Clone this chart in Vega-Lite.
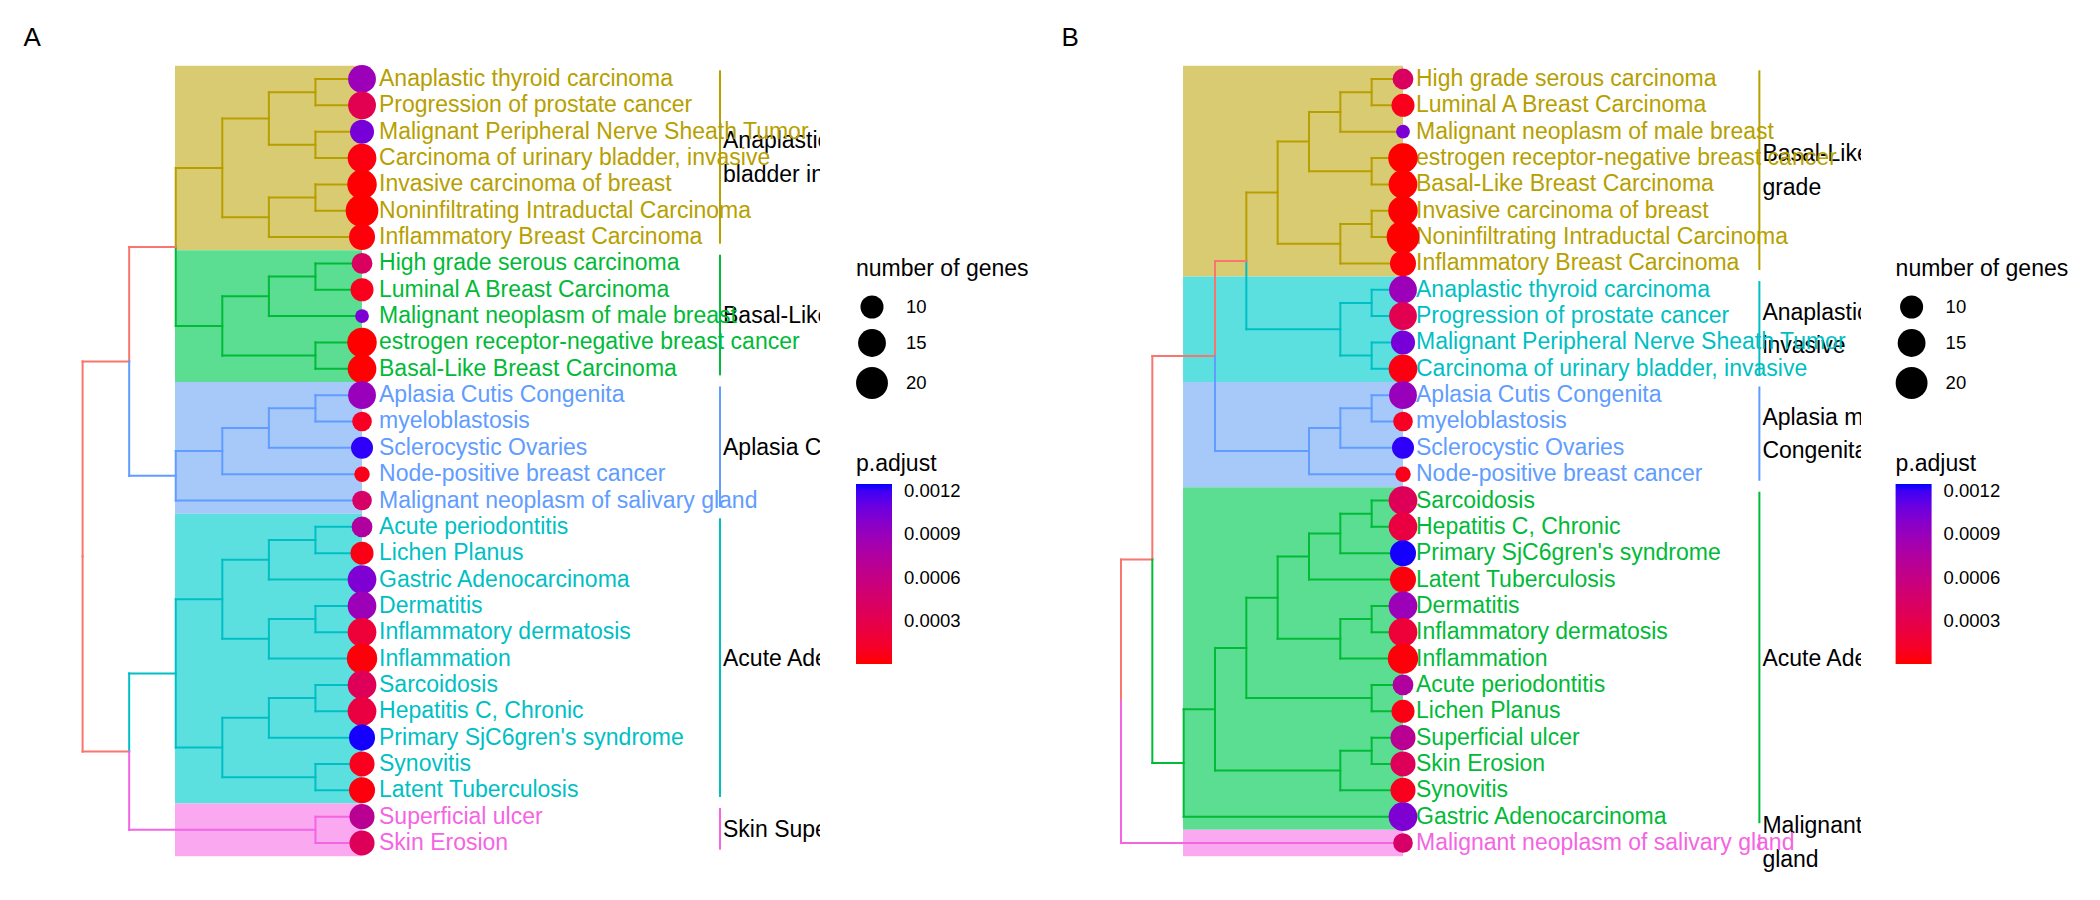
{
"$schema": "https://vega.github.io/schema/vega-lite/v6.json",
"padding": {"left": 0, "top": 25, "right": 0, "bottom": 0},
"bounds": "flush",
"spacing": 220,
"config": {
 "view": {"stroke": null},
 "font": "Liberation Sans",
 "title": {"fontSize": 26, "fontWeight": "normal", "anchor": "start", "frame": "group", "baseline": "alphabetic", "offset": 9, "color": "black", "font": "Liberation Sans"},
 "legend": {"titleFontSize": 23, "titleFontWeight": "normal", "labelFontSize": 18.5, "titleColor": "black", "labelColor": "black", "titleFont": "Liberation Sans", "labelFont": "Liberation Sans", "padding": 0, "symbolBaseFillColor": "black"}
},
"resolve": {"scale": {"x": "independent", "y": "independent", "color": "independent", "size": "independent"}},
"datasets": {
 "tipsA": [
  {"row": 0, "term": "Anaplastic thyroid carcinoma", "g": "c2", "count": 15, "padj": 0.00088},
  {"row": 1, "term": "Progression of prostate cancer", "g": "c2", "count": 15, "padj": 0.00032},
  {"row": 2, "term": "Malignant Peripheral Nerve Sheath Tumor", "g": "c2", "count": 11, "padj": 0.00105},
  {"row": 3, "term": "Carcinoma of urinary bladder, invasive", "g": "c2", "count": 16, "padj": 0.00004},
  {"row": 4, "term": "Invasive carcinoma of breast", "g": "c2", "count": 17, "padj": 0.00001},
  {"row": 5, "term": "Noninfiltrating Intraductal Carcinoma", "g": "c2", "count": 21, "padj": 0.000003},
  {"row": 6, "term": "Inflammatory Breast Carcinoma", "g": "c2", "count": 13, "padj": 0.00002},
  {"row": 7, "term": "High grade serous carcinoma", "g": "c3", "count": 8, "padj": 0.0004},
  {"row": 8, "term": "Luminal A Breast Carcinoma", "g": "c3", "count": 10, "padj": 0.00007},
  {"row": 9, "term": "Malignant neoplasm of male breast", "g": "c3", "count": 3, "padj": 0.00103},
  {"row": 10, "term": "estrogen receptor-negative breast cancer", "g": "c3", "count": 17, "padj": 0.000005},
  {"row": 11, "term": "Basal-Like Breast Carcinoma", "g": "c3", "count": 16, "padj": 0.000008},
  {"row": 12, "term": "Aplasia Cutis Congenita", "g": "c5", "count": 15, "padj": 0.0009},
  {"row": 13, "term": "myeloblastosis", "g": "c5", "count": 7, "padj": 0.0001},
  {"row": 14, "term": "Sclerocystic Ovaries", "g": "c5", "count": 9, "padj": 0.00122},
  {"row": 15, "term": "Node-positive breast cancer", "g": "c5", "count": 4, "padj": 0.00006},
  {"row": 16, "term": "Malignant neoplasm of salivary gland", "g": "c5", "count": 7, "padj": 0.00044},
  {"row": 17, "term": "Acute periodontitis", "g": "c4", "count": 8, "padj": 0.00075},
  {"row": 18, "term": "Lichen Planus", "g": "c4", "count": 10, "padj": 0.00005},
  {"row": 19, "term": "Gastric Adenocarcinoma", "g": "c4", "count": 16, "padj": 0.00102},
  {"row": 20, "term": "Dermatitis", "g": "c4", "count": 16, "padj": 0.00088},
  {"row": 21, "term": "Inflammatory dermatosis", "g": "c4", "count": 16, "padj": 0.0002},
  {"row": 22, "term": "Inflammation", "g": "c4", "count": 18, "padj": 0.00002},
  {"row": 23, "term": "Sarcoidosis", "g": "c4", "count": 16, "padj": 0.00036},
  {"row": 24, "term": "Hepatitis C, Chronic", "g": "c4", "count": 16, "padj": 0.00024},
  {"row": 25, "term": "Primary SjC6gren's syndrome", "g": "c4", "count": 13, "padj": 0.00124},
  {"row": 26, "term": "Synovitis", "g": "c4", "count": 12, "padj": 0.00008},
  {"row": 27, "term": "Latent Tuberculosis", "g": "c4", "count": 13, "padj": 0.00003},
  {"row": 28, "term": "Superficial ulcer", "g": "c6", "count": 12, "padj": 0.00068},
  {"row": 29, "term": "Skin Erosion", "g": "c6", "count": 12, "padj": 0.00036}
 ],
 "tipsB": [
  {"row": 0, "term": "High grade serous carcinoma", "g": "c2", "count": 8, "padj": 0.0004},
  {"row": 1, "term": "Luminal A Breast Carcinoma", "g": "c2", "count": 10, "padj": 0.00007},
  {"row": 2, "term": "Malignant neoplasm of male breast", "g": "c2", "count": 3, "padj": 0.00103},
  {"row": 3, "term": "estrogen receptor-negative breast cancer", "g": "c2", "count": 17, "padj": 0.000005},
  {"row": 4, "term": "Basal-Like Breast Carcinoma", "g": "c2", "count": 16, "padj": 0.000008},
  {"row": 5, "term": "Invasive carcinoma of breast", "g": "c2", "count": 17, "padj": 0.00001},
  {"row": 6, "term": "Noninfiltrating Intraductal Carcinoma", "g": "c2", "count": 21, "padj": 0.000003},
  {"row": 7, "term": "Inflammatory Breast Carcinoma", "g": "c2", "count": 13, "padj": 0.00002},
  {"row": 8, "term": "Anaplastic thyroid carcinoma", "g": "c4", "count": 15, "padj": 0.00088},
  {"row": 9, "term": "Progression of prostate cancer", "g": "c4", "count": 15, "padj": 0.00032},
  {"row": 10, "term": "Malignant Peripheral Nerve Sheath Tumor", "g": "c4", "count": 11, "padj": 0.00105},
  {"row": 11, "term": "Carcinoma of urinary bladder, invasive", "g": "c4", "count": 16, "padj": 0.00004},
  {"row": 12, "term": "Aplasia Cutis Congenita", "g": "c5", "count": 15, "padj": 0.0009},
  {"row": 13, "term": "myeloblastosis", "g": "c5", "count": 7, "padj": 0.0001},
  {"row": 14, "term": "Sclerocystic Ovaries", "g": "c5", "count": 9, "padj": 0.00122},
  {"row": 15, "term": "Node-positive breast cancer", "g": "c5", "count": 4, "padj": 0.00006},
  {"row": 16, "term": "Sarcoidosis", "g": "c3", "count": 16, "padj": 0.00036},
  {"row": 17, "term": "Hepatitis C, Chronic", "g": "c3", "count": 16, "padj": 0.00024},
  {"row": 18, "term": "Primary SjC6gren's syndrome", "g": "c3", "count": 13, "padj": 0.00124},
  {"row": 19, "term": "Latent Tuberculosis", "g": "c3", "count": 13, "padj": 0.00003},
  {"row": 20, "term": "Dermatitis", "g": "c3", "count": 16, "padj": 0.00088},
  {"row": 21, "term": "Inflammatory dermatosis", "g": "c3", "count": 16, "padj": 0.0002},
  {"row": 22, "term": "Inflammation", "g": "c3", "count": 18, "padj": 0.00002},
  {"row": 23, "term": "Acute periodontitis", "g": "c3", "count": 8, "padj": 0.00075},
  {"row": 24, "term": "Lichen Planus", "g": "c3", "count": 10, "padj": 0.00005},
  {"row": 25, "term": "Superficial ulcer", "g": "c3", "count": 12, "padj": 0.00068},
  {"row": 26, "term": "Skin Erosion", "g": "c3", "count": 12, "padj": 0.00036},
  {"row": 27, "term": "Synovitis", "g": "c3", "count": 12, "padj": 0.00008},
  {"row": 28, "term": "Gastric Adenocarcinoma", "g": "c3", "count": 16, "padj": 0.00102},
  {"row": 29, "term": "Malignant neoplasm of salivary gland", "g": "c6", "count": 7, "padj": 0.00044}
 ],
 "boxA": [
  {"g": "c2", "y": -0.5, "y2": 6.5}, {"g": "c3", "y": 6.5, "y2": 11.5}, {"g": "c5", "y": 11.5, "y2": 16.5}, {"g": "c4", "y": 16.5, "y2": 27.5}, {"g": "c6", "y": 27.5, "y2": 29.5}
 ],
 "boxB": [
  {"g": "c2", "y": -0.5, "y2": 7.5}, {"g": "c4", "y": 7.5, "y2": 11.5}, {"g": "c5", "y": 11.5, "y2": 15.5}, {"g": "c3", "y": 15.5, "y2": 28.5}, {"g": "c6", "y": 28.5, "y2": 29.5}
 ],
 "cladeA": [
  {"g": "c2", "lo": -0.33, "hi": 6.25, "mid": 3, "lines": 2, "label": "Anaplastic thyroid\nbladder invasive"},
  {"g": "c3", "lo": 6.67, "hi": 11.25, "mid": 9, "lines": 1, "label": "Basal-Like Breast"},
  {"g": "c5", "lo": 11.67, "hi": 16.25, "mid": 14, "lines": 1, "label": "Aplasia Cutis"},
  {"g": "c4", "lo": 16.67, "hi": 27.25, "mid": 22, "lines": 1, "label": "Acute Adenocarcinoma"},
  {"g": "c6", "lo": 27.67, "hi": 29.25, "mid": 28.5, "lines": 1, "label": "Skin Superficial"}
 ],
 "cladeB": [
  {"g": "c2", "lo": -0.33, "hi": 7.25, "mid": 3.5, "lines": 2, "label": "Basal-Like high\ngrade"},
  {"g": "c4", "lo": 7.67, "hi": 11.25, "mid": 9.5, "lines": 2, "label": "Anaplastic thyroid\ninvasive"},
  {"g": "c5", "lo": 11.67, "hi": 15.25, "mid": 13.5, "lines": 2, "label": "Aplasia myeloblastosis\nCongenita Cutis"},
  {"g": "c3", "lo": 15.67, "hi": 28.25, "mid": 22, "lines": 1, "label": "Acute Adenocarcinoma"},
  {"g": "c6", "lo": 28.67, "hi": 29.25, "mid": 29, "lines": 2, "label": "Malignant\ngland"}
 ],
 "segA": [
  {"x": 5, "x2": 6, "y": 0, "y2": 0, "g": "c2"}, {"x": 5, "x2": 6, "y": 1, "y2": 1, "g": "c2"}, {"x": 5, "x2": 6, "y": 2, "y2": 2, "g": "c2"}, {"x": 5, "x2": 6, "y": 3, "y2": 3, "g": "c2"},
  {"x": 5, "x2": 6, "y": 4, "y2": 4, "g": "c2"}, {"x": 5, "x2": 6, "y": 5, "y2": 5, "g": "c2"}, {"x": 4, "x2": 6, "y": 6, "y2": 6, "g": "c2"}, {"x": 4, "x2": 5, "y": 0.5, "y2": 0.5, "g": "c2"},
  {"x": 4, "x2": 5, "y": 2.5, "y2": 2.5, "g": "c2"}, {"x": 4, "x2": 5, "y": 4.5, "y2": 4.5, "g": "c2"}, {"x": 3, "x2": 4, "y": 1.5, "y2": 1.5, "g": "c2"}, {"x": 3, "x2": 4, "y": 5.25, "y2": 5.25, "g": "c2"},
  {"x": 2, "x2": 3, "y": 3.375, "y2": 3.375, "g": "c2"},
  {"x": 5, "x2": 5, "y": 0, "y2": 1, "g": "c2"}, {"x": 5, "x2": 5, "y": 2, "y2": 3, "g": "c2"}, {"x": 4, "x2": 4, "y": 0.5, "y2": 2.5, "g": "c2"}, {"x": 5, "x2": 5, "y": 4, "y2": 5, "g": "c2"},
  {"x": 4, "x2": 4, "y": 4.5, "y2": 6, "g": "c2"}, {"x": 3, "x2": 3, "y": 1.5, "y2": 5.25, "g": "c2"}, {"x": 2, "x2": 2, "y": 3.375, "y2": 6.375, "g": "c2"},
  {"x": 5, "x2": 6, "y": 7, "y2": 7, "g": "c3"}, {"x": 5, "x2": 6, "y": 8, "y2": 8, "g": "c3"}, {"x": 4, "x2": 6, "y": 9, "y2": 9, "g": "c3"}, {"x": 4, "x2": 5, "y": 7.5, "y2": 7.5, "g": "c3"},
  {"x": 5, "x2": 6, "y": 10, "y2": 10, "g": "c3"}, {"x": 5, "x2": 6, "y": 11, "y2": 11, "g": "c3"}, {"x": 3, "x2": 4, "y": 8.25, "y2": 8.25, "g": "c3"}, {"x": 3, "x2": 5, "y": 10.5, "y2": 10.5, "g": "c3"},
  {"x": 2, "x2": 3, "y": 9.375, "y2": 9.375, "g": "c3"},
  {"x": 5, "x2": 5, "y": 7, "y2": 8, "g": "c3"}, {"x": 4, "x2": 4, "y": 7.5, "y2": 9, "g": "c3"}, {"x": 5, "x2": 5, "y": 10, "y2": 11, "g": "c3"}, {"x": 3, "x2": 3, "y": 8.25, "y2": 10.5, "g": "c3"},
  {"x": 2, "x2": 2, "y": 6.375, "y2": 9.375, "g": "c3"},
  {"x": 1, "x2": 2, "y": 6.375, "y2": 6.375, "g": "c1"}, {"x": 1, "x2": 1, "y": 6.375, "y2": 10.71875, "g": "c1"}, {"x": 0, "x2": 1, "y": 10.71875, "y2": 10.71875, "g": "c1"},
  {"x": 0, "x2": 0, "y": 10.71875, "y2": 18.125, "g": "c1"}, {"x": 0, "x2": 1, "y": 25.53125, "y2": 25.53125, "g": "c1"}, {"x": 0, "x2": 0, "y": 18.125, "y2": 25.53125, "g": "c1"},
  {"x": 5, "x2": 6, "y": 12, "y2": 12, "g": "c5"}, {"x": 5, "x2": 6, "y": 13, "y2": 13, "g": "c5"}, {"x": 4, "x2": 6, "y": 14, "y2": 14, "g": "c5"}, {"x": 4, "x2": 5, "y": 12.5, "y2": 12.5, "g": "c5"},
  {"x": 3, "x2": 6, "y": 15, "y2": 15, "g": "c5"}, {"x": 3, "x2": 4, "y": 13.25, "y2": 13.25, "g": "c5"}, {"x": 2, "x2": 6, "y": 16, "y2": 16, "g": "c5"}, {"x": 2, "x2": 3, "y": 14.125, "y2": 14.125, "g": "c5"},
  {"x": 1, "x2": 2, "y": 15.0625, "y2": 15.0625, "g": "c5"},
  {"x": 5, "x2": 5, "y": 12, "y2": 13, "g": "c5"}, {"x": 4, "x2": 4, "y": 12.5, "y2": 14, "g": "c5"}, {"x": 3, "x2": 3, "y": 13.25, "y2": 15, "g": "c5"}, {"x": 2, "x2": 2, "y": 14.125, "y2": 16, "g": "c5"},
  {"x": 1, "x2": 1, "y": 10.71875, "y2": 15.0625, "g": "c5"},
  {"x": 5, "x2": 6, "y": 17, "y2": 17, "g": "c4"}, {"x": 5, "x2": 6, "y": 18, "y2": 18, "g": "c4"}, {"x": 4, "x2": 6, "y": 19, "y2": 19, "g": "c4"}, {"x": 4, "x2": 5, "y": 17.5, "y2": 17.5, "g": "c4"},
  {"x": 5, "x2": 6, "y": 20, "y2": 20, "g": "c4"}, {"x": 5, "x2": 6, "y": 21, "y2": 21, "g": "c4"}, {"x": 4, "x2": 6, "y": 22, "y2": 22, "g": "c4"}, {"x": 4, "x2": 5, "y": 20.5, "y2": 20.5, "g": "c4"},
  {"x": 3, "x2": 4, "y": 18.25, "y2": 18.25, "g": "c4"}, {"x": 3, "x2": 4, "y": 21.25, "y2": 21.25, "g": "c4"}, {"x": 5, "x2": 6, "y": 23, "y2": 23, "g": "c4"}, {"x": 5, "x2": 6, "y": 24, "y2": 24, "g": "c4"},
  {"x": 4, "x2": 6, "y": 25, "y2": 25, "g": "c4"}, {"x": 4, "x2": 5, "y": 23.5, "y2": 23.5, "g": "c4"}, {"x": 5, "x2": 6, "y": 26, "y2": 26, "g": "c4"}, {"x": 5, "x2": 6, "y": 27, "y2": 27, "g": "c4"},
  {"x": 3, "x2": 4, "y": 24.25, "y2": 24.25, "g": "c4"}, {"x": 3, "x2": 5, "y": 26.5, "y2": 26.5, "g": "c4"}, {"x": 2, "x2": 3, "y": 19.75, "y2": 19.75, "g": "c4"}, {"x": 2, "x2": 3, "y": 25.375, "y2": 25.375, "g": "c4"},
  {"x": 1, "x2": 2, "y": 22.5625, "y2": 22.5625, "g": "c4"},
  {"x": 5, "x2": 5, "y": 17, "y2": 18, "g": "c4"}, {"x": 4, "x2": 4, "y": 17.5, "y2": 19, "g": "c4"}, {"x": 5, "x2": 5, "y": 20, "y2": 21, "g": "c4"}, {"x": 4, "x2": 4, "y": 20.5, "y2": 22, "g": "c4"},
  {"x": 3, "x2": 3, "y": 18.25, "y2": 21.25, "g": "c4"}, {"x": 5, "x2": 5, "y": 23, "y2": 24, "g": "c4"}, {"x": 4, "x2": 4, "y": 23.5, "y2": 25, "g": "c4"}, {"x": 5, "x2": 5, "y": 26, "y2": 27, "g": "c4"},
  {"x": 3, "x2": 3, "y": 24.25, "y2": 26.5, "g": "c4"}, {"x": 2, "x2": 2, "y": 19.75, "y2": 25.375, "g": "c4"}, {"x": 1, "x2": 1, "y": 22.5625, "y2": 25.53125, "g": "c4"},
  {"x": 5, "x2": 6, "y": 28, "y2": 28, "g": "c6"}, {"x": 5, "x2": 6, "y": 29, "y2": 29, "g": "c6"}, {"x": 1, "x2": 5, "y": 28.5, "y2": 28.5, "g": "c6"},
  {"x": 5, "x2": 5, "y": 28, "y2": 29, "g": "c6"}, {"x": 1, "x2": 1, "y": 25.53125, "y2": 28.5, "g": "c6"}
 ],
 "segB": [
  {"x": 8, "x2": 9, "y": 0, "y2": 0, "g": "c2"}, {"x": 8, "x2": 9, "y": 1, "y2": 1, "g": "c2"}, {"x": 7, "x2": 9, "y": 2, "y2": 2, "g": "c2"}, {"x": 7, "x2": 8, "y": 0.5, "y2": 0.5, "g": "c2"},
  {"x": 8, "x2": 9, "y": 3, "y2": 3, "g": "c2"}, {"x": 8, "x2": 9, "y": 4, "y2": 4, "g": "c2"}, {"x": 6, "x2": 8, "y": 3.5, "y2": 3.5, "g": "c2"}, {"x": 6, "x2": 7, "y": 1.25, "y2": 1.25, "g": "c2"},
  {"x": 8, "x2": 9, "y": 5, "y2": 5, "g": "c2"}, {"x": 8, "x2": 9, "y": 6, "y2": 6, "g": "c2"}, {"x": 7, "x2": 9, "y": 7, "y2": 7, "g": "c2"}, {"x": 7, "x2": 8, "y": 5.5, "y2": 5.5, "g": "c2"},
  {"x": 5, "x2": 6, "y": 2.375, "y2": 2.375, "g": "c2"}, {"x": 5, "x2": 7, "y": 6.25, "y2": 6.25, "g": "c2"}, {"x": 4, "x2": 5, "y": 4.3125, "y2": 4.3125, "g": "c2"},
  {"x": 8, "x2": 8, "y": 0, "y2": 1, "g": "c2"}, {"x": 7, "x2": 7, "y": 0.5, "y2": 2, "g": "c2"}, {"x": 8, "x2": 8, "y": 3, "y2": 4, "g": "c2"}, {"x": 6, "x2": 6, "y": 1.25, "y2": 3.5, "g": "c2"},
  {"x": 8, "x2": 8, "y": 5, "y2": 6, "g": "c2"}, {"x": 7, "x2": 7, "y": 5.5, "y2": 7, "g": "c2"}, {"x": 5, "x2": 5, "y": 2.375, "y2": 6.25, "g": "c2"}, {"x": 4, "x2": 4, "y": 4.3125, "y2": 6.90625, "g": "c2"},
  {"x": 8, "x2": 9, "y": 8, "y2": 8, "g": "c4"}, {"x": 8, "x2": 9, "y": 9, "y2": 9, "g": "c4"}, {"x": 8, "x2": 9, "y": 10, "y2": 10, "g": "c4"}, {"x": 8, "x2": 9, "y": 11, "y2": 11, "g": "c4"},
  {"x": 7, "x2": 8, "y": 8.5, "y2": 8.5, "g": "c4"}, {"x": 7, "x2": 8, "y": 10.5, "y2": 10.5, "g": "c4"}, {"x": 4, "x2": 7, "y": 9.5, "y2": 9.5, "g": "c4"},
  {"x": 8, "x2": 8, "y": 8, "y2": 9, "g": "c4"}, {"x": 8, "x2": 8, "y": 10, "y2": 11, "g": "c4"}, {"x": 7, "x2": 7, "y": 8.5, "y2": 10.5, "g": "c4"}, {"x": 4, "x2": 4, "y": 6.90625, "y2": 9.5, "g": "c4"},
  {"x": 3, "x2": 4, "y": 6.90625, "y2": 6.90625, "g": "c1"}, {"x": 1, "x2": 3, "y": 10.515625, "y2": 10.515625, "g": "c1"}, {"x": 0, "x2": 1, "y": 18.23828, "y2": 18.23828, "g": "c1"},
  {"x": 3, "x2": 3, "y": 6.90625, "y2": 10.515625, "g": "c1"}, {"x": 1, "x2": 1, "y": 10.515625, "y2": 18.23828, "g": "c1"}, {"x": 0, "x2": 0, "y": 18.23828, "y2": 23.61914, "g": "c1"},
  {"x": 8, "x2": 9, "y": 12, "y2": 12, "g": "c5"}, {"x": 8, "x2": 9, "y": 13, "y2": 13, "g": "c5"}, {"x": 7, "x2": 9, "y": 14, "y2": 14, "g": "c5"}, {"x": 7, "x2": 8, "y": 12.5, "y2": 12.5, "g": "c5"},
  {"x": 6, "x2": 9, "y": 15, "y2": 15, "g": "c5"}, {"x": 6, "x2": 7, "y": 13.25, "y2": 13.25, "g": "c5"}, {"x": 3, "x2": 6, "y": 14.125, "y2": 14.125, "g": "c5"},
  {"x": 8, "x2": 8, "y": 12, "y2": 13, "g": "c5"}, {"x": 7, "x2": 7, "y": 12.5, "y2": 14, "g": "c5"}, {"x": 6, "x2": 6, "y": 13.25, "y2": 15, "g": "c5"}, {"x": 3, "x2": 3, "y": 10.515625, "y2": 14.125, "g": "c5"},
  {"x": 8, "x2": 9, "y": 16, "y2": 16, "g": "c3"}, {"x": 8, "x2": 9, "y": 17, "y2": 17, "g": "c3"}, {"x": 7, "x2": 9, "y": 18, "y2": 18, "g": "c3"}, {"x": 7, "x2": 8, "y": 16.5, "y2": 16.5, "g": "c3"},
  {"x": 6, "x2": 9, "y": 19, "y2": 19, "g": "c3"}, {"x": 6, "x2": 7, "y": 17.25, "y2": 17.25, "g": "c3"}, {"x": 8, "x2": 9, "y": 20, "y2": 20, "g": "c3"}, {"x": 8, "x2": 9, "y": 21, "y2": 21, "g": "c3"},
  {"x": 7, "x2": 9, "y": 22, "y2": 22, "g": "c3"}, {"x": 7, "x2": 8, "y": 20.5, "y2": 20.5, "g": "c3"}, {"x": 5, "x2": 6, "y": 18.125, "y2": 18.125, "g": "c3"}, {"x": 5, "x2": 7, "y": 21.25, "y2": 21.25, "g": "c3"},
  {"x": 8, "x2": 9, "y": 23, "y2": 23, "g": "c3"}, {"x": 8, "x2": 9, "y": 24, "y2": 24, "g": "c3"}, {"x": 4, "x2": 5, "y": 19.6875, "y2": 19.6875, "g": "c3"}, {"x": 4, "x2": 8, "y": 23.5, "y2": 23.5, "g": "c3"},
  {"x": 8, "x2": 9, "y": 25, "y2": 25, "g": "c3"}, {"x": 8, "x2": 9, "y": 26, "y2": 26, "g": "c3"}, {"x": 7, "x2": 9, "y": 27, "y2": 27, "g": "c3"}, {"x": 7, "x2": 8, "y": 25.5, "y2": 25.5, "g": "c3"},
  {"x": 3, "x2": 4, "y": 21.59375, "y2": 21.59375, "g": "c3"}, {"x": 3, "x2": 7, "y": 26.25, "y2": 26.25, "g": "c3"}, {"x": 2, "x2": 3, "y": 23.921875, "y2": 23.921875, "g": "c3"}, {"x": 2, "x2": 9, "y": 28, "y2": 28, "g": "c3"},
  {"x": 1, "x2": 2, "y": 25.9609375, "y2": 25.9609375, "g": "c3"},
  {"x": 8, "x2": 8, "y": 16, "y2": 17, "g": "c3"}, {"x": 7, "x2": 7, "y": 16.5, "y2": 18, "g": "c3"}, {"x": 6, "x2": 6, "y": 17.25, "y2": 19, "g": "c3"}, {"x": 8, "x2": 8, "y": 20, "y2": 21, "g": "c3"},
  {"x": 7, "x2": 7, "y": 20.5, "y2": 22, "g": "c3"}, {"x": 5, "x2": 5, "y": 18.125, "y2": 21.25, "g": "c3"}, {"x": 8, "x2": 8, "y": 23, "y2": 24, "g": "c3"}, {"x": 4, "x2": 4, "y": 19.6875, "y2": 23.5, "g": "c3"},
  {"x": 8, "x2": 8, "y": 25, "y2": 26, "g": "c3"}, {"x": 7, "x2": 7, "y": 25.5, "y2": 27, "g": "c3"}, {"x": 3, "x2": 3, "y": 21.59375, "y2": 26.25, "g": "c3"}, {"x": 2, "x2": 2, "y": 23.921875, "y2": 28, "g": "c3"},
  {"x": 1, "x2": 1, "y": 18.23828, "y2": 25.9609375, "g": "c3"},
  {"x": 0, "x2": 9, "y": 29, "y2": 29, "g": "c6"}, {"x": 0, "x2": 0, "y": 23.61914, "y2": 29, "g": "c6"}
 ]
},
"hconcat": [
 {
  "width": 820, "height": 840,
  "title": {"text": "A", "dx": 23.5},
  "resolve": {"scale": {"color": "independent"}},
  "layer": [
   {"data": {"name": "boxA"}, "mark": {"type": "rect"},
    "encoding": {
     "x": {"datum": 1.984, "type": "quantitative", "scale": {"domain": [-1.77367, 15.8342], "nice": false, "zero": false}, "axis": null},
     "x2": {"datum": 6},
     "y": {"field": "y", "type": "quantitative", "scale": {"domain": [-0.7212, 31.1634], "reverse": true, "nice": false, "zero": false}, "axis": null},
     "y2": {"field": "y2"},
     "color": {"field": "g", "type": "nominal", "scale": {"domain": ["c1", "c2", "c3", "c4", "c5", "c6"], "range": ["#F8766D", "#D9CB72", "#5BDE91", "#5CE0DF", "#A6C9FA", "#FAA8EF"]}, "legend": null}
    }},
   {"data": {"name": "segA"}, "mark": {"type": "rule", "strokeWidth": 2, "strokeCap": "square"},
    "encoding": {
     "x": {"field": "x", "type": "quantitative", "axis": null}, "x2": {"field": "x2"},
     "y": {"field": "y", "type": "quantitative", "axis": null}, "y2": {"field": "y2"},
     "color": {"field": "g", "type": "nominal", "scale": {"domain": ["c1", "c2", "c3", "c4", "c5", "c6"], "range": ["#F8766D", "#B79F00", "#00BA38", "#00BFC4", "#619CFF", "#F564E3"]}, "legend": null}
    }},
   {"data": {"name": "cladeA"}, "mark": {"type": "rule", "strokeWidth": 2},
    "encoding": {
     "x": {"datum": 13.687, "type": "quantitative", "axis": null},
     "y": {"field": "lo", "type": "quantitative", "axis": null}, "y2": {"field": "hi"},
     "color": {"field": "g", "type": "nominal", "scale": {"domain": ["c1", "c2", "c3", "c4", "c5", "c6"], "range": ["#F8766D", "#B79F00", "#00BA38", "#00BFC4", "#619CFF", "#F564E3"]}, "legend": null}
    }},
   {"data": {"name": "cladeA"}, "transform": [{"filter": "datum.lines == 1"}],
    "mark": {"type": "text", "clip": true, "align": "left", "baseline": "middle", "dx": 3, "fontSize": 23, "color": "black", "font": "Liberation Sans"},
    "encoding": {
     "x": {"datum": 13.687, "type": "quantitative", "axis": null},
     "y": {"field": "mid", "type": "quantitative", "axis": null},
     "text": {"field": "label"}
    }},
   {"data": {"name": "cladeA"}, "transform": [{"filter": "datum.lines == 2"}],
    "mark": {"type": "text", "clip": true, "align": "left", "baseline": "middle", "dx": 3, "dy": -17, "fontSize": 23, "lineBreak": "\n", "lineHeight": 34, "color": "black", "font": "Liberation Sans"},
    "encoding": {
     "x": {"datum": 13.687, "type": "quantitative", "axis": null},
     "y": {"field": "mid", "type": "quantitative", "axis": null},
     "text": {"field": "label"}
    }},
   {"data": {"name": "tipsA"}, "mark": {"type": "text", "align": "left", "baseline": "middle", "dx": 17, "fontSize": 23, "font": "Liberation Sans"},
    "encoding": {
     "x": {"datum": 6, "type": "quantitative", "axis": null},
     "y": {"field": "row", "type": "quantitative", "axis": null},
     "text": {"field": "term"},
     "color": {"field": "g", "type": "nominal", "scale": {"domain": ["c1", "c2", "c3", "c4", "c5", "c6"], "range": ["#F8766D", "#B79F00", "#00BA38", "#00BFC4", "#619CFF", "#F564E3"]}, "legend": null}
    }},
   {"data": {"name": "tipsA"}, "mark": {"type": "point", "filled": true, "shape": "circle", "opacity": 1, "strokeWidth": 0},
    "encoding": {
     "x": {"datum": 6, "type": "quantitative", "axis": null},
     "y": {"field": "row", "type": "quantitative", "axis": null},
     "size": {"field": "count", "type": "quantitative", "scale": {"domain": [0, 20], "range": [44, 1018], "zero": false},
      "legend": {"title": "number of genes", "orient": "none", "legendX": 856, "legendY": 198, "values": [10, 15, 20], "symbolFillColor": "black", "symbolStrokeWidth": 0, "symbolType": "circle", "symbolOpacity": 1, "rowPadding": 10, "titlePadding": 14, "labelOffset": 18}},
     "color": {"field": "padj", "type": "quantitative", "scale": {"domain": [0.0000023, 0.0012485], "range": ["#FF0000", "#0000FF"], "interpolate": "lab"},
      "legend": {"title": "p.adjust", "orient": "none", "legendX": 856, "legendY": 393, "direction": "vertical", "gradientLength": 180, "gradientThickness": 36, "values": [0.0003, 0.0006, 0.0009, 0.0012], "format": ".4f", "labelOffset": 12, "titlePadding": 8, "gradientStrokeWidth": 0}}
    }}
  ]
 },
 {
  "width": 821, "height": 840,
  "title": {"text": "B", "dx": 21.5},
  "resolve": {"scale": {"color": "independent"}},
  "layer": [
   {"data": {"name": "boxB"}, "mark": {"type": "rect"},
    "encoding": {
     "x": {"datum": 1.98, "type": "quantitative", "scale": {"domain": [-2.5851, 23.6173], "nice": false, "zero": false}, "axis": null},
     "x2": {"datum": 9},
     "y": {"field": "y", "type": "quantitative", "scale": {"domain": [-0.7212, 31.1634], "reverse": true, "nice": false, "zero": false}, "axis": null},
     "y2": {"field": "y2"},
     "color": {"field": "g", "type": "nominal", "scale": {"domain": ["c1", "c2", "c3", "c4", "c5", "c6"], "range": ["#F8766D", "#D9CB72", "#5BDE91", "#5CE0DF", "#A6C9FA", "#FAA8EF"]}, "legend": null}
    }},
   {"data": {"name": "segB"}, "mark": {"type": "rule", "strokeWidth": 2, "strokeCap": "square"},
    "encoding": {
     "x": {"field": "x", "type": "quantitative", "axis": null}, "x2": {"field": "x2"},
     "y": {"field": "y", "type": "quantitative", "axis": null}, "y2": {"field": "y2"},
     "color": {"field": "g", "type": "nominal", "scale": {"domain": ["c1", "c2", "c3", "c4", "c5", "c6"], "range": ["#F8766D", "#B79F00", "#00BA38", "#00BFC4", "#619CFF", "#F564E3"]}, "legend": null}
    }},
   {"data": {"name": "cladeB"}, "mark": {"type": "rule", "strokeWidth": 2},
    "encoding": {
     "x": {"datum": 20.374, "type": "quantitative", "axis": null},
     "y": {"field": "lo", "type": "quantitative", "axis": null}, "y2": {"field": "hi"},
     "color": {"field": "g", "type": "nominal", "scale": {"domain": ["c1", "c2", "c3", "c4", "c5", "c6"], "range": ["#F8766D", "#B79F00", "#00BA38", "#00BFC4", "#619CFF", "#F564E3"]}, "legend": null}
    }},
   {"data": {"name": "cladeB"}, "transform": [{"filter": "datum.lines == 1"}],
    "mark": {"type": "text", "clip": true, "align": "left", "baseline": "middle", "dx": 3, "fontSize": 23, "color": "black", "font": "Liberation Sans"},
    "encoding": {
     "x": {"datum": 20.374, "type": "quantitative", "axis": null},
     "y": {"field": "mid", "type": "quantitative", "axis": null},
     "text": {"field": "label"}
    }},
   {"data": {"name": "cladeB"}, "transform": [{"filter": "datum.lines == 2"}],
    "mark": {"type": "text", "clip": true, "align": "left", "baseline": "middle", "dx": 3, "dy": -16.75, "fontSize": 23, "lineBreak": "\n", "lineHeight": 33.5, "color": "black", "font": "Liberation Sans"},
    "encoding": {
     "x": {"datum": 20.374, "type": "quantitative", "axis": null},
     "y": {"field": "mid", "type": "quantitative", "axis": null},
     "text": {"field": "label"}
    }},
   {"data": {"name": "tipsB"}, "mark": {"type": "text", "align": "left", "baseline": "middle", "dx": 13, "fontSize": 23, "font": "Liberation Sans"},
    "encoding": {
     "x": {"datum": 9, "type": "quantitative", "axis": null},
     "y": {"field": "row", "type": "quantitative", "axis": null},
     "text": {"field": "term"},
     "color": {"field": "g", "type": "nominal", "scale": {"domain": ["c1", "c2", "c3", "c4", "c5", "c6"], "range": ["#F8766D", "#B79F00", "#00BA38", "#00BFC4", "#619CFF", "#F564E3"]}, "legend": null}
    }},
   {"data": {"name": "tipsB"}, "mark": {"type": "point", "filled": true, "shape": "circle", "opacity": 1, "strokeWidth": 0},
    "encoding": {
     "x": {"datum": 9, "type": "quantitative", "axis": null},
     "y": {"field": "row", "type": "quantitative", "axis": null},
     "size": {"field": "count", "type": "quantitative", "scale": {"domain": [0, 20], "range": [44, 1018], "zero": false},
      "legend": {"title": "number of genes", "orient": "none", "legendX": 855.6, "legendY": 198, "values": [10, 15, 20], "symbolFillColor": "black", "symbolStrokeWidth": 0, "symbolType": "circle", "symbolOpacity": 1, "rowPadding": 10, "titlePadding": 14, "labelOffset": 18}},
     "color": {"field": "padj", "type": "quantitative", "scale": {"domain": [0.0000023, 0.0012485], "range": ["#FF0000", "#0000FF"], "interpolate": "lab"},
      "legend": {"title": "p.adjust", "orient": "none", "legendX": 855.6, "legendY": 393, "direction": "vertical", "gradientLength": 180, "gradientThickness": 36, "values": [0.0003, 0.0006, 0.0009, 0.0012], "format": ".4f", "labelOffset": 12, "titlePadding": 8, "gradientStrokeWidth": 0}}
    }}
  ]
 }
]
}
